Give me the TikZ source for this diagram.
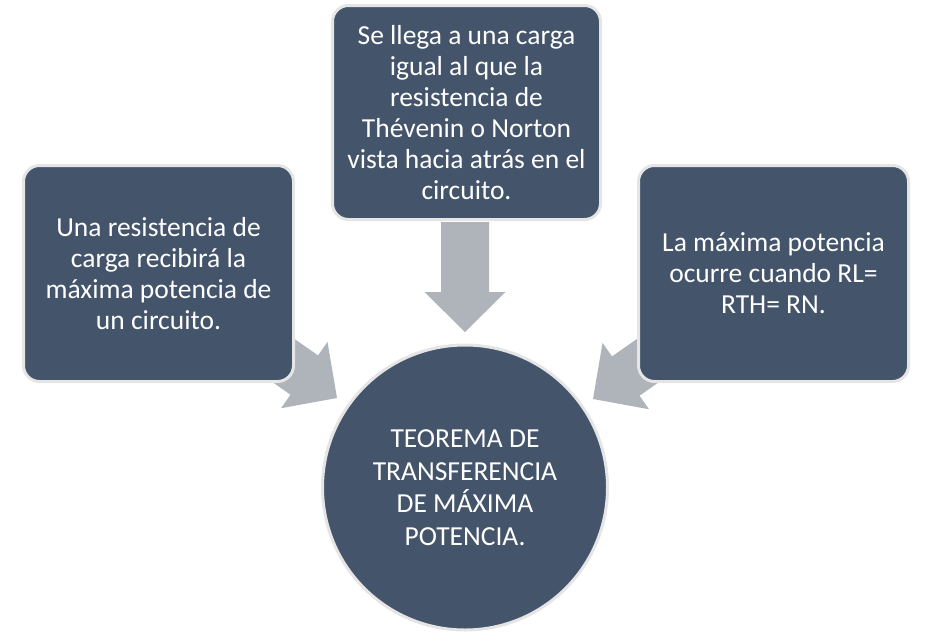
\documentclass[tikz,border=0pt]{standalone}
\usepackage{fontspec}
\setmainfont{Carlito}
\definecolor{boxfill}{HTML}{44546A}
\definecolor{boxline}{HTML}{E5E5E5}
\definecolor{arrowgray}{HTML}{AFB3BA}
\begin{document}
\begin{tikzpicture}[x=1pt,y=-1pt,
  card/.style={draw=boxline, line width=3pt, fill=boxfill, rounded corners=16pt,
    text=white, align=center, font=\fontsize{27.5}{31}\selectfont,
    minimum width=270pt, minimum height=216pt, inner sep=0pt},
  hub/.style={circle, draw=boxline, line width=3pt, fill=boxfill,
    text=white, align=center, font=\fontsize{27.5}{32.5}\selectfont,
    minimum size=285pt, inner sep=0pt},
  blockarrow/.style={fill=arrowgray, draw=none}]
\useasboundingbox (0,0) rectangle (931,637);
% block arrows (drawn first, partly under the boxes)
\foreach \tx/\ty/\ang in {337/398/-35, 465/332/-90, 593/399/-145}{
  \fill[blockarrow, shift={(\tx,\ty)}, rotate=\ang]
    (-110,-24) -- (-40,-24) -- (-40,-40.5) -- (0,0) -- (-40,40.5) -- (-40,24) -- (-110,24) -- cycle;
}
\node[card] (left) at (158.5,273.5) {Una resistencia de\\carga recibirá la\\máxima potencia de\\un circuito.};
\node[card, minimum width=268pt, minimum height=214pt] (top) at (466.5,112.5) {Se llega a una carga\\igual al que la\\resistencia de\\Thévenin o Norton\\vista hacia atrás en el\\circuito.};
\node[card] (right) at (773.5,273.5) {La máxima potencia\\ocurre cuando RL=\\RTH= RN.};
\node[hub] (center) at (465,487.5) {TEOREMA DE\\TRANSFERENCIA\\DE MÁXIMA\\POTENCIA.};
\end{tikzpicture}
\end{document}
